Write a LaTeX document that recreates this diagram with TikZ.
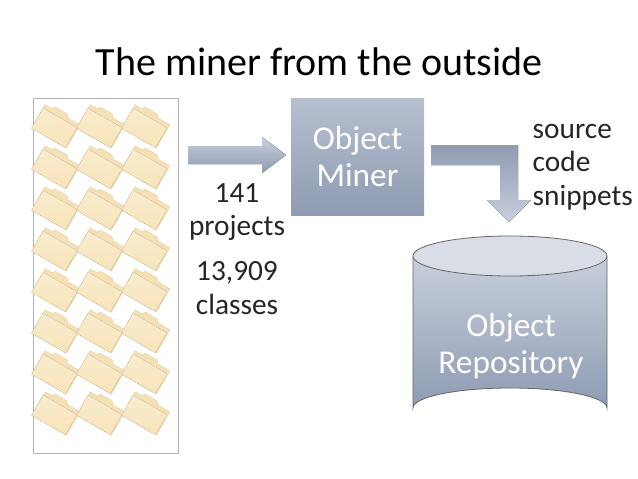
\documentclass[tikz,border=0pt]{standalone}
\usepackage{fontspec}
\setmainfont{Carlito}
\usetikzlibrary{shapes.geometric}
\definecolor{bluegrey}{RGB}{142,155,178}
\definecolor{lightbg}{RGB}{200,207,220}
\definecolor{fold}{RGB}{247,228,185}
\definecolor{folddark}{RGB}{232,210,160}
\tikzset{
  lbl/.style={font=\fontsize{22}{25}\selectfont, text=black!85, align=center},
  wlbl/.style={font=\fontsize{25}{28}\selectfont, text=white, align=center},
  folder/.pic={
    \fill[fold!85!folddark, draw=folddark, line width=0.3pt] (-20,14) -- (-20,-13) -- (-12,-13) -- (-10,-16) -- (4,-16) -- (6,-13) -- (20,-13) -- (20,14) -- cycle;
    \fill[top color=fold!70!white, bottom color=fold, draw=folddark!70, line width=0.2pt] (-20,14) rectangle (19,-9);
  }
}
\begin{document}
\begin{tikzpicture}[x=0.75pt,y=-0.75pt]
\useasboundingbox (0,0) rectangle (638,478);
\fill[white] (0,0) rectangle (638,478);
\node (title) at (319,62) {\fontsize{30}{30}\selectfont The miner from the outside};
\node[draw=black!30, line width=0.6pt, minimum width=108.75pt, minimum height=266.25pt, inner sep=0] (panel) at (105.5,275.5) {};
\foreach \y in {126,167,208,249,290,331,372,413}{
  \foreach \x in {56,101,146}{
    \pic[rotate=-30] at (\x,\y) {folder};
  }
}
% right arrow
\fill[top color=lightbg, bottom color=bluegrey] (188,146) -- (262,146) -- (262,137) -- (286,155) -- (262,173) -- (262,164) -- (188,164) -- cycle;
\node[inner sep=0, minimum width=99.75pt, minimum height=87.75pt, top color=lightbg!70!bluegrey, bottom color=bluegrey] (miner) at (357.5,156.5) {};
\node[wlbl] at (miner) {Object\\Miner};
\node[lbl] (p) at (237,212) {141\\projects};
\node[lbl] (c) at (237,288) {13,909\\classes};
% elbow arrow
\fill[top color=bluegrey, bottom color=lightbg] (431,145) -- (518,145) -- (518,200) -- (531,200) -- (509,222) -- (487,200) -- (500,200) -- (500,165) -- (431,165) -- cycle;
\node[lbl, align=left, anchor=west] (s) at (528,167) {source\\code\\snippets};
% cylinder
\shade[top color=lightbg, bottom color=bluegrey] (413,256) -- (413,408) arc[start angle=180, end angle=360, x radius=97, y radius=20] -- (607,256) -- cycle;
\draw[black!60, line width=0.6pt] (413,256) -- (413,408) arc[start angle=180, end angle=360, x radius=97, y radius=20] -- (607,256);
\draw[black!60, line width=0.6pt, fill=lightbg!70!white] (510,256) ellipse[x radius=97, y radius=20];
\node[wlbl] (repo) at (511,346) {Object\\Repository};
\end{tikzpicture}
\end{document}
